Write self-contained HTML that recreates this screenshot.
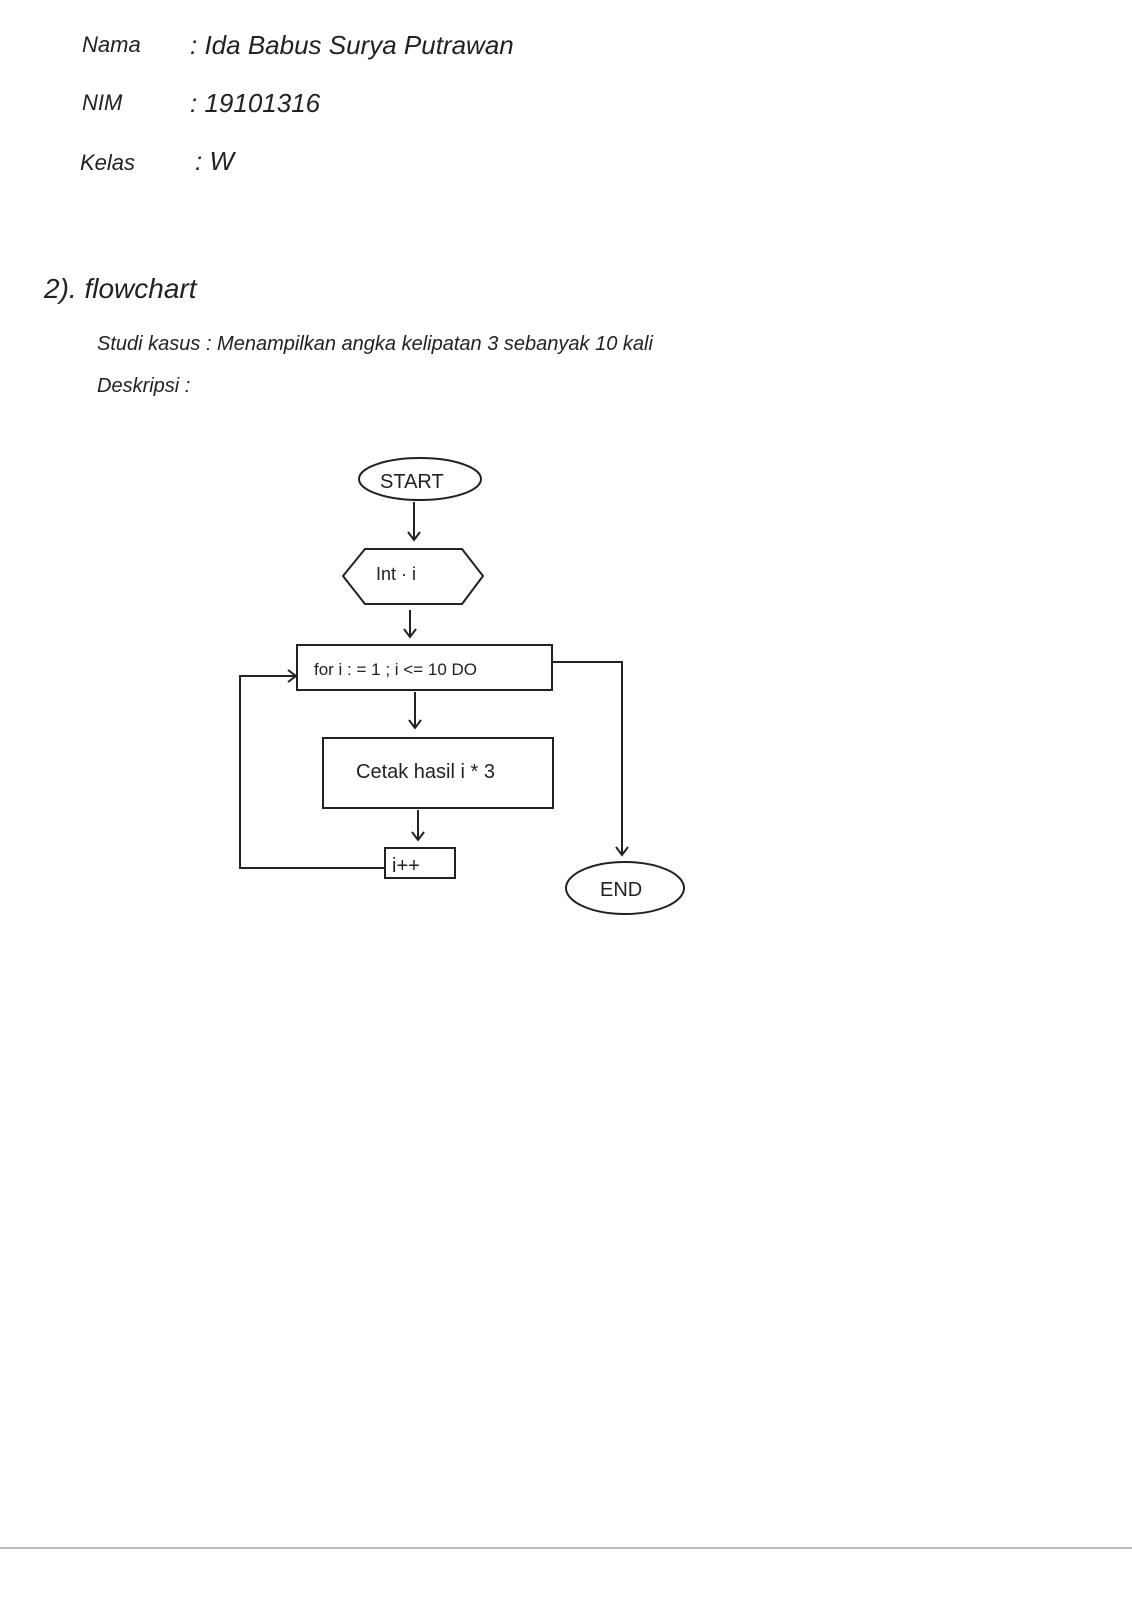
<!DOCTYPE html>
<html><head><meta charset="utf-8"><style>
html,body{margin:0;padding:0;background:#fff;}
body{width:1132px;height:1600px;overflow:hidden;}
svg text{font-family:"Liberation Sans",sans-serif;fill:#222;font-style:italic;}
</style></head><body>
<svg width="1132" height="1600" viewBox="0 0 1132 1600" xmlns="http://www.w3.org/2000/svg">
<rect width="1132" height="1600" fill="#fff"/>
<g font-size="22">
<text x="82" y="52">Nama</text>
<text x="190" y="54" font-size="26">: Ida Babus Surya Putrawan</text>
<text x="82" y="110">NIM</text>
<text x="190" y="112" font-size="26">: 19101316</text>
<text x="80" y="170">Kelas</text>
<text x="195" y="170" font-size="26">: W</text>
<text x="44" y="298" font-size="28">2). flowchart</text>
<text x="97" y="350" font-size="20">Studi kasus  : Menampilkan angka kelipatan 3 sebanyak 10 kali</text>
<text x="97" y="392" font-size="20">Deskripsi :</text>
</g>
<g fill="none" stroke="#222" stroke-width="2">
<ellipse cx="420" cy="479" rx="61" ry="21"/>
<path d="M414 502 V540 M408 532 L414 540 L420 532"/>
<polygon points="343,576 365,549 462,549 483,576 462,604 365,604"/>
<path d="M410 610 V637 M404 629 L410 637 L416 629"/>
<rect x="297" y="645" width="255" height="45"/>
<path d="M415 692 V728 M409 720 L415 728 L421 720"/>
<rect x="323" y="738" width="230" height="70"/>
<path d="M418 810 V840 M412 832 L418 840 L424 832"/>
<rect x="385" y="848" width="70" height="30"/>
<path d="M385 868 H240 V676 H296 M288 670 L296 676 L288 682"/>
<path d="M552 662 H622 V855 M616 847 L622 855 L628 847"/>
<ellipse cx="625" cy="888" rx="59" ry="26"/>
</g>
<g font-size="20" font-style="normal">
<text x="380" y="488" style="font-style:normal">START</text>
<text x="376" y="580" style="font-style:normal" font-size="18">Int · i</text>
<text x="314" y="675" style="font-style:normal" font-size="17">for i : = 1 ; i &lt;= 10 DO</text>
<text x="356" y="778" style="font-style:normal">Cetak hasil i * 3</text>
<text x="392" y="872" style="font-style:normal">i++</text>
<text x="600" y="896" style="font-style:normal">END</text>
</g>
<line x1="0" y1="1548" x2="1132" y2="1548" stroke="#bbb" stroke-width="2"/>
</svg>
</body></html>
